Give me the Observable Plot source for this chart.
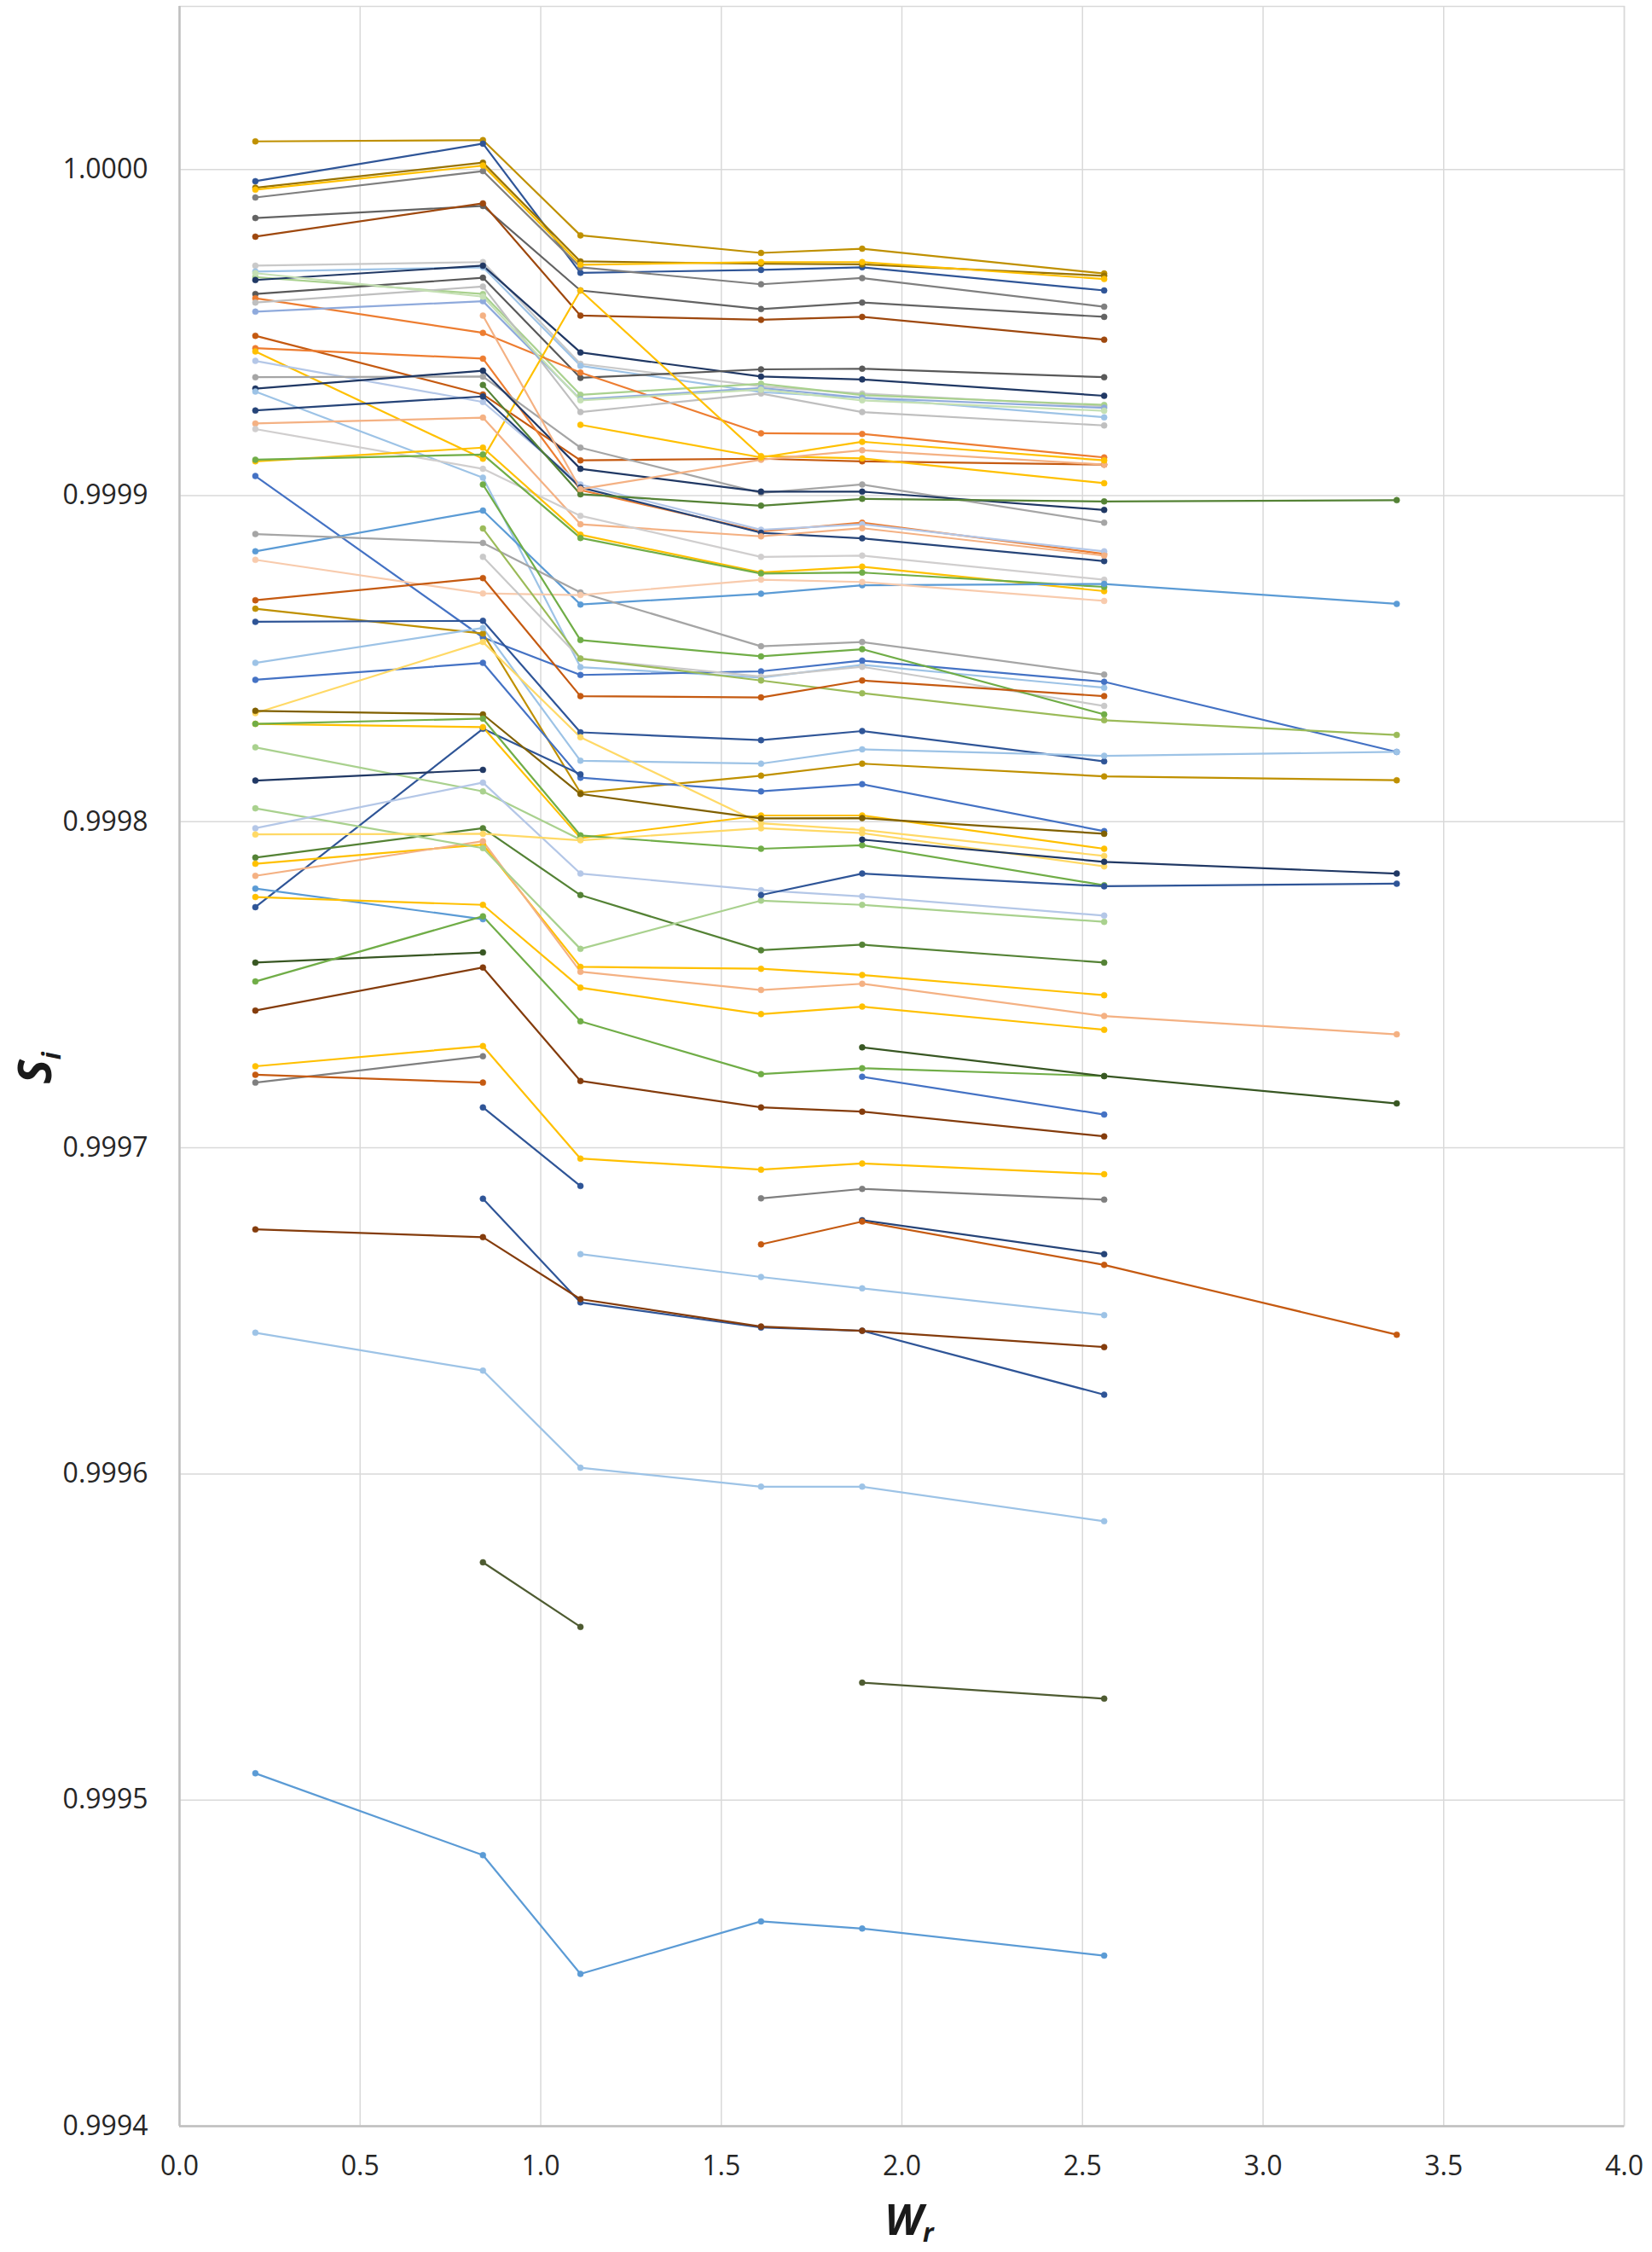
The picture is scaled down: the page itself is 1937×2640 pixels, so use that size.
<!DOCTYPE html>
<html>
<head>
<meta charset="utf-8">
<script src="https://cdn.jsdelivr.net/npm/d3@7"></script>
<script src="https://cdn.jsdelivr.net/npm/@observablehq/plot@0.6"></script>
<style>
  html, body { margin: 0; padding: 0; background: #ffffff; }
  #chart { width: 1937px; height: 2640px; }
</style>
</head>
<body>
<div id="chart"></div>
<script>
// Relative flow values W_r at which S_i was evaluated
const wr = [0.21, 0.84, 1.11, 1.61, 1.89, 2.56, 3.37];
const _ = null;

// Axis ticks
const xTicks = [0, 0.5, 1, 1.5, 2, 2.5, 3, 3.5, 4];
const yTicks = [0.9994, 0.9995, 0.9996, 0.9997, 0.9998, 0.9999, 1.0];

// Line colour of every series (same order as deficitsPpm)
const seriesColors = [
  "#BF9000", "#2F5597", "#997300", "#7F7F7F", "#636363", "#9E480E", "#FFC000",
  "#C9C9C9", "#9DC3E6", "#A9D18E", "#203864", "#595959", "#ED7D31", "#BFBFBF",
  "#8FAADC", "#C5E0B4", "#C55A11", "#ED7D31", "#FFC000", "#B4C7E7", "#A5A5A5",
  "#203864", "#9DC3E6", "#264478", "#F4B183", "#D0CECE", "#FFC000", "#70AD47",
  "#548235", "#F4B183", "#FFC000",
  "#4472C4", "#5B9BD5", "#A5A5A5", "#F8CBAD", "#C9C9C9", "#70AD47", "#9BBB59",
  "#C55A11", "#BF9000", "#2F5597", "#9DC3E6", "#4472C4", "#2F5597", "#FFD966",
  "#FFC000", "#806000", "#70AD47", "#A9D18E", "#203864",
  "#548235", "#FFC000", "#F4B183", "#5B9BD5", "#FFC000", "#A9D18E", "#B4C7E7",
  "#FFD966", "#203864", "#2F5597", "#385723", "#70AD47", "#385723", "#4472C4",
  "#843C0C", "#FFC000", "#7F7F7F", "#C55A11", "#2F5597", "#7F7F7F", "#264478",
  "#C55A11", "#9DC3E6", "#2F5597", "#843C0C", "#9DC3E6", "#4E5B31", "#4E5B31",
  "#5B9BD5"
];

// 1 − S_i in parts per million, one row per series, columns follow wr
const deficitsPpm = [
  [-8.6, -9.0, 20.2, 25.6, 24.3, 31.9, _],
  [3.6, -7.9, 31.7, 30.8, 30.0, 37.1, _],
  [5.6, -2.1, 28.2, 28.9, 29.1, 32.6, _],
  [8.6, 0.5, 30.0, 35.2, 33.3, 42.1, _],
  [14.9, 11.2, 37.1, 42.8, 40.8, 45.2, _],
  [20.6, 10.4, 44.8, 46.1, 45.2, 52.2, _],
  [6.2, -1.2, 29.2, 28.4, 28.4, 33.6, _],
  [29.5, 28.4, 59.6, 66.5, 68.7, 72.6, _],
  [31.3, 30.0, 60.2, 68.3, 70.0, 76.0, _],
  [33.0, 38.2, 69.1, 65.7, 69.2, 72.2, _],
  [33.9, 29.5, 56.1, 63.5, 64.4, 69.4, _],
  [38.2, 33.2, 63.9, 61.3, 61.1, 63.7, _],
  [39.5, 50.1, 62.3, 80.9, 81.1, 88.3, _],
  [40.8, 35.9, 74.4, 68.7, 74.4, 78.5, _],
  [43.6, 40.4, 70.5, 67.0, 70.0, 73.1, _],
  [31.8, 39.0, 70.8, 67.5, 70.8, 74.0, _],
  [51.0, 69.0, 89.2, 88.7, 89.5, 90.5, _],
  [54.8, 58.0, 98.3, 111.0, 108.3, 117.9, _],
  [55.8, 88.7, 37.1, 87.9, 88.6, 96.2, _],
  [58.7, 71.3, 96.6, 110.5, 108.8, 117.1, _],
  [63.7, 63.5, 85.3, 99.2, 96.6, 108.3, _],
  [67.2, 61.7, 91.8, 98.8, 98.8, 104.4, _],
  [68.1, 94.5, 152.6, 155.8, 151.9, 158.9, _],
  [73.9, 69.6, 97.5, 111.4, 113.1, 120.1, _],
  [77.9, 76.1, 108.8, 112.5, 110.0, 118.4, _],
  [79.6, 91.8, 106.2, 118.8, 118.4, 125.8, _],
  [89.5, 85.3, 112.0, 123.6, 121.8, 129.3, _],
  [89.0, 87.4, 113.0, 123.9, 123.6, 128.0, _],
  [_, 66.1, 99.6, 103.1, 101.0, 101.8, 101.4],
  [_, 44.8, 98.0, 89.0, 86.1, 90.5, _],
  [_, _, 78.3, 88.3, 83.5, 89.2, _],
  [94.0, 143.5, 155.0, 153.9, 150.6, 157.1, 178.6],
  [117.1, 104.6, 133.4, 130.1, 127.5, 127.1, 133.2],
  [111.8, 114.5, 129.7, 146.2, 144.9, 154.9, _],
  [119.7, 130.0, 130.5, 125.8, 126.5, 132.3, _],
  [_, 118.8, 150.0, 155.5, 152.5, 164.5, _],
  [_, 96.6, 144.3, 149.3, 147.1, 167.1, _],
  [_, 110.1, 150.0, 156.7, 160.6, 168.9, 173.4],
  [132.1, 125.3, 161.5, 161.9, 156.7, 161.5, _],
  [134.7, 142.3, 191.1, 185.9, 182.2, 186.1, 187.3],
  [138.7, 138.4, 172.6, 175.0, 172.2, 181.5, _],
  [151.3, 140.6, 181.3, 182.2, 177.8, 179.8, 178.6],
  [156.5, 151.3, 186.5, 190.7, 188.5, 202.9, _],
  [226.2, 171.5, 185.5, _, _, _, _],
  [166.7, 144.9, 174.1, 200.5, 202.5, 210.5, _],
  [170.0, 171.0, 205.0, 198.1, 198.1, 208.3, _],
  [166.0, 167.1, 191.5, 199.0, 198.9, 203.7, _],
  [170.0, 168.4, 204.2, 208.3, 207.2, 219.5, _],
  [177.2, 190.7, 205.5, _, _, _, _],
  [187.4, 184.1, _, _, _, _, _],
  [211.0, 202.0, 222.5, 239.4, 237.7, 243.2, _],
  [212.9, 207.0, 244.5, 245.1, 247.0, 253.2, _],
  [216.6, 206.0, 246.0, 251.6, 249.7, 259.6, 265.2],
  [220.5, 229.9, _, _, _, _, _],
  [223.1, 225.5, 250.9, 259.0, 256.7, 263.8, _],
  [195.9, 208.1, 239.0, 224.2, 225.5, 230.7, _],
  [202.0, 188.0, 215.9, 221.0, 222.9, 228.8, _],
  [203.9, 203.7, 205.7, 202.0, 203.5, 213.7, _],
  [_, _, _, _, 205.5, 212.3, 215.9],
  [_, _, _, 222.5, 215.9, 219.8, 219.0],
  [243.2, 240.1, _, _, _, _, _],
  [249.0, 229.0, 261.2, 277.4, 275.6, 278.0, _],
  [_, _, _, _, 269.2, 278.0, 286.4],
  [_, _, _, _, 278.2, 289.8, _],
  [257.9, 244.7, 279.5, 287.6, 288.9, 296.5, _],
  [275.0, 268.8, 303.3, 306.7, 304.8, 308.1, _],
  [280.0, 271.9, _, _, _, _, _],
  [277.6, 280.0, _, _, _, _, _],
  [_, 287.6, 311.7, _, _, _, _],
  [_, _, _, 315.5, 312.6, 315.9, _],
  [_, _, _, _, 322.2, 332.6, _],
  [_, _, _, 329.6, 322.6, 335.9, 357.3],
  [_, _, 332.6, 339.6, 343.1, 351.3, _],
  [_, 315.6, 347.4, 355.1, 356.1, 375.7, _],
  [325.0, 327.4, 346.4, 354.8, 356.1, 361.1, _],
  [356.7, 368.3, 398.1, 403.9, 403.9, 414.5, _],
  [_, 427.1, 446.9, _, _, _, _],
  [_, _, _, _, 464.0, 468.9, _],
  [491.8, 516.9, 553.3, 537.2, 539.4, 547.7, _]
];

// Long table of points: S_i = 1 − deficit
const rows = [];
deficitsPpm.forEach((vals, s) => {
  vals.forEach((d, j) => {
    if (d !== null) rows.push({series: s, wr: wr[j], si: 1 - d * 1e-6, color: seriesColors[s]});
  });
});

const chart = Plot.plot({
  width: 1937,
  height: 2640,
  marginLeft: 210,
  marginRight: 33,
  marginTop: 7,
  marginBottom: 148,
  style: {fontFamily: "'Open Sans', sans-serif", fontSize: "32px", color: "#262626", background: "#ffffff"},
  x: {domain: [0, 4], ticks: xTicks, tickFormat: d3.format(".1f"), tickSize: 0, tickPadding: 35, label: null},
  y: {domain: [0.9994, 1.00005], ticks: yTicks, tickFormat: d3.format(".4f"), tickSize: 0, tickPadding: 37, label: null},
  color: {type: "identity"},
  marks: [
    Plot.ruleX(xTicks, {stroke: "#D9D9D9", strokeWidth: 1.5}),
    Plot.ruleY(yTicks, {stroke: "#D9D9D9", strokeWidth: 1.5}),
    Plot.frame({stroke: "#D9D9D9", strokeWidth: 1.5}),
    Plot.ruleX([0], {stroke: "#BFBFBF", strokeWidth: 2.5}),
    Plot.ruleY([0.9994], {stroke: "#BFBFBF", strokeWidth: 2.5}),
    Plot.line(rows, {x: "wr", y: "si", z: "series", stroke: "color", strokeWidth: 2.2}),
    Plot.dot(rows, {x: "wr", y: "si", fill: "color", stroke: "color", strokeWidth: 0.5, r: 3.5})
  ]
});

document.getElementById("chart").appendChild(chart);

// Axis titles with subscripts
const svg = d3.select(chart);
const yTitle = svg.append("text")
  .attr("transform", "translate(60,1252) rotate(-90)")
  .attr("text-anchor", "middle")
  .style("font-family", "'Open Sans', sans-serif")
  .style("font-style", "italic")
  .style("font-weight", "bold")
  .style("font-size", "54px")
  .attr("fill", "#1a1a1a");
yTitle.append("tspan").text("S");
yTitle.append("tspan").attr("dy", 11).style("font-size", "30px").text("i");

const xTitle = svg.append("text")
  .attr("x", 1066)
  .attr("y", 2620)
  .attr("text-anchor", "middle")
  .style("font-family", "'Open Sans', sans-serif")
  .style("font-style", "italic")
  .style("font-weight", "bold")
  .style("font-size", "50px")
  .attr("fill", "#1a1a1a");
xTitle.append("tspan").text("W");
xTitle.append("tspan").attr("dy", 8).style("font-size", "30px").text("r");
</script>
</body>
</html>
